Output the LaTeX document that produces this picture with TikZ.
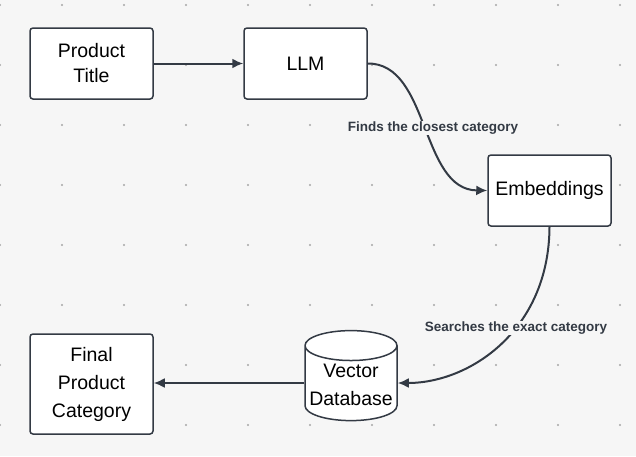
\documentclass[tikz,border=0pt]{standalone}
\usepackage{fontspec}
\setmainfont{Liberation Sans}
\usetikzlibrary{shapes.geometric,arrows.meta}
\definecolor{ln}{HTML}{333A44}
\definecolor{bg}{HTML}{F6F6F6}
\begin{document}
\begin{tikzpicture}[x=1pt,y=-1pt,
  box/.style={draw=ln,line width=1.5pt,fill=white,rounded corners=3pt,minimum width=123pt,align=center,font=\fontsize{19.5}{25}\selectfont,text=black,inner sep=1pt},
  con/.style={draw=ln,line width=2pt,-{Latex[length=11pt,width=10pt]}},
  lab/.style={fill=bg,font=\bfseries\fontsize{13.5}{15}\selectfont,text=ln,inner sep=1pt}]
\fill[bg] (0,0) rectangle (636,456);
\useasboundingbox (0,0) rectangle (636,456);
\foreach \x in {0,62,...,636} \foreach \y in {5,65,...,456} \fill[gray!70] (\x,\y) circle (1.1pt);
\node[box,minimum height=71pt] (pt) at (91.5,63.5) {Product\\Title};
\node[box,minimum height=71pt] (llm) at (305.5,63.5) {LLM};
\node[box,minimum height=71pt] (emb) at (549.5,190.5) {Embeddings};
\node[box,minimum height=100pt,font=\fontsize{19.5}{28}\selectfont] (fin) at (91.5,384) {Final\\Product\\Category};
\node[cylinder,shape border rotate=90,draw=ln,line width=1.5pt,fill=white,minimum width=92pt,minimum height=90pt,aspect=0.35,align=center,inner sep=1pt,font=\fontsize{19.5}{28}\selectfont] (vdb) at (351,385) {Vector\\Database};
\draw[con] (pt) -- (llm);
\draw[con] (llm.east) .. controls (430,63) and (420,190) .. (emb.west);
\node[lab] (l1) at (433,128) {Finds the closest category};
\draw[con] (emb.south) .. controls (549,330) and (470,383) .. (vdb.east |- 0,383);
\node[lab] (l2) at (516,328) {Searches the exact category};
\draw[con] (vdb.west |- 0,383) -- (fin.east |- 0,383);
\end{tikzpicture}
\end{document}
